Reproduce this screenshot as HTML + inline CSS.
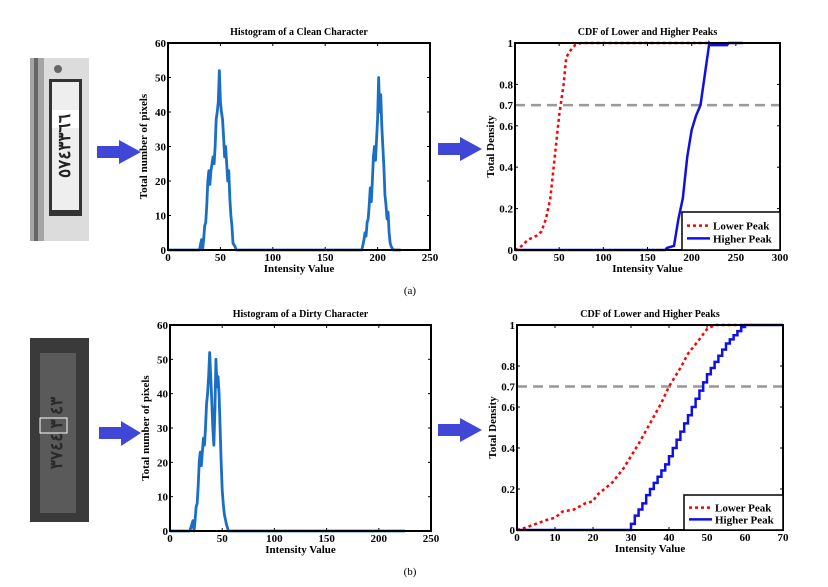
<!DOCTYPE html>
<html><head><meta charset="utf-8"><style>
body{margin:0;background:#fff}
svg text{font-family:"Liberation Serif",serif;font-weight:bold}
</style></head><body>
<svg id="fig" width="828" height="582" viewBox="0 0 828 582" xmlns="http://www.w3.org/2000/svg">
<g>
<rect x="30" y="58" width="59" height="183" fill="#dcdcdc"/>
<rect x="30" y="58" width="14" height="183" fill="#a5a5a5"/>
<rect x="34" y="58" width="4" height="183" fill="#666"/>
<circle cx="58" cy="69" r="4" fill="#666"/>
<rect x="49" y="79" width="33" height="137" fill="#333"/>
<rect x="52" y="82" width="27" height="128" fill="#eee"/>
<rect x="52" y="110" width="27" height="18" fill="#fff"/>
<text x="66" y="146" transform="rotate(-90 66 146)" text-anchor="middle" dominant-baseline="middle" font-size="17" fill="#222" font-family="Liberation Sans,sans-serif">٥٧٤٣٣٦٦</text>
</g>
<g>
<rect x="30" y="338" width="59" height="184" fill="#3a3a3a"/>
<rect x="40" y="353" width="36" height="160" fill="#5a5a5a"/>
<text x="58" y="433" transform="rotate(-90 58 433)" text-anchor="middle" dominant-baseline="middle" font-size="17" fill="#2a2a2a" font-family="Liberation Sans,sans-serif">٤٣ ٣ ٣٧٤٤</text>
<rect x="40" y="418" width="27" height="15" fill="none" stroke="#fff" stroke-width="1"/>
</g>
<polygon points="97,146 119,146 119,140 141,152 119,164 119,158 97,158" fill="#4046d6"/>
<polygon points="438,143 460,143 460,137 482,149 460,161 460,155 438,155" fill="#4046d6"/>
<polygon points="99,427 121,427 121,421 141,433 121,446 121,439 99,439" fill="#4046d6"/>
<polygon points="438,424 460,424 460,418 482,430 460,442 460,436 438,436" fill="#4046d6"/>
<text x="410" y="294" text-anchor="middle" font-size="11" style="font-weight:normal">(a)</text>
<text x="410" y="575" text-anchor="middle" font-size="11" style="font-weight:normal">(b)</text>
</svg>
<script>
const h1x=[0,30,32,33,34,35,36,37,38,39,40,41,42,43,44,45,46,47,48,49,50,51,52,53,54,55,56,57,58,59,60,61,62,64,65,185,187,188,189,190,191,192,193,194,195,196,197,198,199,200,201,202,203,204,205,206,207,208,209,210,211,212,213,215,222];
const h1y=[0,0,3,0,3,7,8,13,20,23,19,23,25,27,25,30,38,40,43,52,43,40,38,33,27,30,25,20,23,15,10,7,2,1,0,0,3,5,4,8,9,13,18,14,20,27,30,26,32,38,50,40,45,36,30,24,16,13,9,11,5,2,1,0,0];
const h2x=[0,19,21,22,23,24,25,26,27,28,29,30,31,32,33,34,35,36,37,38,39,40,41,42,43,44,45,46,47,48,49,50,51,52,54,56,225];
const h2y=[0,0,2,3,0,3,7,8,13,20,23,19,23,27,25,30,37,40,45,52,45,38,30,25,35,50,42,45,40,30,20,12,8,5,2,0,0];
const c1lx=[0,5,10,15,20,25,30,35,40,45,50,55,58,62,68,75,220];
const c1ly=[0,0.01,0.03,0.05,0.06,0.07,0.09,0.15,0.25,0.45,0.65,0.8,0.93,0.96,0.99,1,1];
const c1hx=[0,170,172,180,185,190,195,200,205,210,215,220,222,240,242,258];
const c1hy=[0,0,0.01,0.02,0.15,0.25,0.45,0.58,0.65,0.7,0.85,1,0.99,0.99,1,1];
const c2lx=[0,2,5,8,10,12,15,18,20,21,25,28,30,32,35,38,40,43,45,48,50,52,60];
const c2ly=[0,0.01,0.03,0.05,0.06,0.09,0.1,0.13,0.14,0.17,0.23,0.3,0.36,0.42,0.52,0.62,0.7,0.79,0.86,0.93,0.98,1,1];
const c2hx=[0,30,31,32,33,34,35,36,37,38,39,40,41,42,43,44,45,46,47,48,49,50,51,52,53,54,55,56,57,58,59,60,70];
const c2hy=[0,0.03,0.07,0.1,0.13,0.17,0.2,0.23,0.26,0.29,0.32,0.36,0.4,0.44,0.48,0.52,0.56,0.6,0.64,0.68,0.72,0.76,0.79,0.82,0.85,0.88,0.91,0.93,0.95,0.97,0.99,1,1];
const histTicksX=[0,50,100,150,200,250];
const histTicksY=[0,10,20,30,40,50,60];
const cdfTicksY=[0,0.2,0.4,0.6,0.7,0.8,1];
const cdf1TicksX=[0,50,100,150,200,250,300];
const cdf2TicksX=[0,10,20,30,40,50,60,70];
const threshold=[0.7];

const NS='http://www.w3.org/2000/svg';
const svg=document.getElementById('fig');
function el(tag,attrs,parent){const e=document.createElementNS(NS,tag);for(const k in attrs)e.setAttribute(k,attrs[k]);(parent||svg).appendChild(e);return e;}
function txt(s,attrs,parent){const e=el('text',attrs,parent);e.textContent=s;return e;}

function axes(name,L,T,R,B,xmax,ymax,xt,yt,title,ylab){
  const g=el('g',{});
  
  
  const sx=v=>L+(R-L)*v/xmax, sy=v=>B-(B-T)*v/ymax;
  const t=txt(title,{x:(L+R)/2,y:T-8,'text-anchor':'middle','font-size':'10'},g);
  
  
  xt.forEach(v=>{const lab=txt(String(v),{x:sx(v),y:B+11,'text-anchor':'middle','font-size':'11'},g);
    
    
    el('line',{x1:sx(v),x2:sx(v),y1:T,y2:T+3,stroke:'#000'},g);el('line',{x1:sx(v),x2:sx(v),y1:B,y2:B-3,stroke:'#000'},g);});
  yt.forEach(v=>{const lab=txt(String(v),{x:L-2,y:sy(v)+4,'text-anchor':'end','font-size':'11'},g);
    
    
    el('line',{x1:L,x2:L+3,y1:sy(v),y2:sy(v),stroke:'#000'},g);el('line',{x1:R,x2:R-3,y1:sy(v),y2:sy(v),stroke:'#000'},g);});
  const xl=txt('Intensity Value',{x:(L+R)/2,y:B+22,'text-anchor':'middle','font-size':'11'},g);
  
  
  const yl=txt(ylab,{x:L-21,y:(T+B)/2,'text-anchor':'middle','font-size':'11',transform:`rotate(-90 ${L-21} ${(T+B)/2})`},g);
  
  
  return {g,sx,sy,frame:()=>el('rect',{x:L,y:T,width:R-L,height:B-T,fill:'none',stroke:'#000','stroke-width':'2'},g)};
}
function line(ax,xs,ys,attrs,name,step){
  let d='';xs.forEach((x,i)=>{if(i===0)d+=`M${ax.sx(x)},${ax.sy(ys[i])}`;else{if(step)d+=`H${ax.sx(x)}`;d+=`L${ax.sx(x)},${ax.sy(ys[i])}`;}});
  const p=el('path',Object.assign({d,fill:'none'},attrs),ax.g);
  
  
}
function hline(ax,v,x0,x1){
  const p=el('line',{x1:ax.sx(x0),x2:ax.sx(x1),y1:ax.sy(v),y2:ax.sy(v),stroke:'#999','stroke-width':'2.5','stroke-dasharray':'10,6'},ax.g);
  
  
}
function legend(ax,L,T,R,B){
  const g=el('g',{},ax.g);
  
  
  el('rect',{x:L,y:T,width:R-L,height:B-T,fill:'#fff',stroke:'#000','stroke-width':'1.5'},g);
  const m1=(T*2+B)/3+1, m2=(T+2*B)/3+1;
  el('line',{x1:L+5,x2:L+28,y1:m1,y2:m1,stroke:'#f00','stroke-width':'2.5','stroke-dasharray':'3,3'},g);
  el('line',{x1:L+5,x2:L+28,y1:m2,y2:m2,stroke:'#1010e0','stroke-width':'2.5'},g);
  const a=txt('Lower Peak',{x:L+31,y:m1+4,'font-size':'11'},g);
  
  
  const b=txt('Higher Peak',{x:L+31,y:m2+4,'font-size':'11'},g);
  
  
}
const histStyle={stroke:'#1a6fc4','stroke-width':'2.8','stroke-linejoin':'round'};
const redStyle={stroke:'#f00','stroke-width':'2.5','stroke-dasharray':'3,3'};
const blueStyle={stroke:'#1010e0','stroke-width':'2.5'};

let a=axes('histogram-clean',168,43,430,250,250,60,histTicksX,histTicksY,'Histogram of a Clean Character','Total number of pixels');
line(a,h1x,h1y,histStyle,'histogram-clean-line');a.frame();

let b=axes('cdf-clean',515,43,780,250,300,1,cdf1TicksX,cdfTicksY,'CDF of Lower and Higher Peaks','Total Density');
hline(b,threshold[0],0,300);
line(b,c1lx,c1ly,redStyle,'cdf-clean-lower-peak');
line(b,c1hx,c1hy,blueStyle,'cdf-clean-higher-peak');
b.frame();legend(b,682,212,780,250);

let c=axes('histogram-dirty',170,325,431,531,250,60,histTicksX,histTicksY,'Histogram of a Dirty Character','Total number of pixels');
line(c,h2x,h2y,histStyle,'histogram-dirty-line');c.frame();

let d=axes('cdf-dirty',517,325,783,530,70,1,cdf2TicksX,cdfTicksY,'CDF of Lower and Higher Peaks','Total Density');
hline(d,threshold[0],0,70);
line(d,c2lx,c2ly,redStyle,'cdf-dirty-lower-peak');
line(d,c2hx,c2hy,blueStyle,'cdf-dirty-higher-peak',true);
d.frame();legend(d,684,495,783,530);
</script>
</body></html>
